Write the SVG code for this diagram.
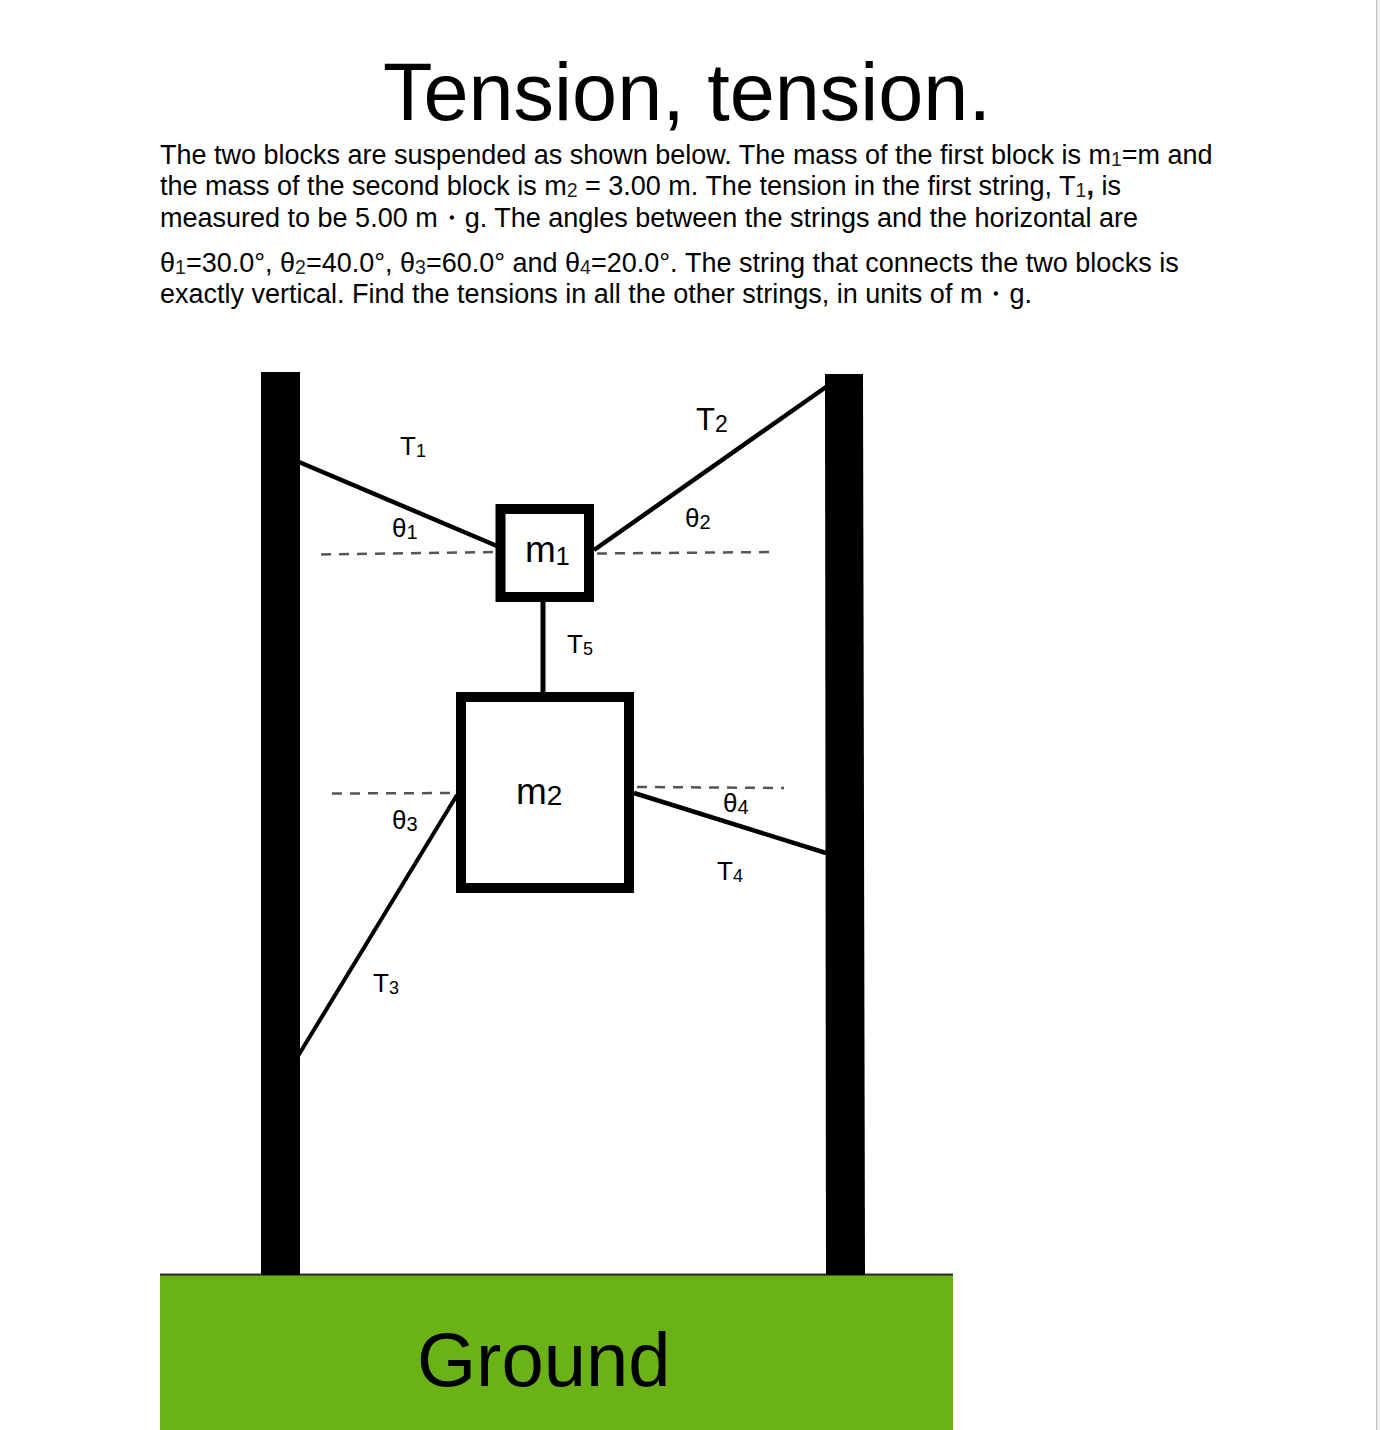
<svg xmlns="http://www.w3.org/2000/svg" width="1380" height="1430" viewBox="0 0 1380 1430">
<style>
text{font-family:"Liberation Sans",Arial,sans-serif;fill:#000}
.p{font-size:27px}
.s{font-size:19.500px;fill:#222}
.l{font-size:26px}
.ls{font-size:18px}
.lt{font-size:20px}
.pillar{fill:#000}
.block{fill:#fff;stroke:#000}
.str{stroke:#000;fill:none}
.dash{stroke:#555;stroke-width:2.500;stroke-dasharray:10 8;fill:none}
</style>
<rect width="1380" height="1430" fill="#fff"/>
<rect x="1376" y="0" width="1.500" height="1430" fill="#bfc3cc"/>
<rect x="1377.500" y="0" width="2.500" height="1430" fill="#f2f2f2"/>
<text id="title" x="383" y="120" style="font-size:81px">Tension, tension.</text>
<g id="problem">
<text class="p" x="160" y="164">The two blocks are suspended as shown below. The mass of the first block is m<tspan class="s" dy="2">1</tspan><tspan dy="-2">=m and</tspan></text>
<text class="p" x="160" y="195">the mass of the second block is m<tspan class="s" dy="2">2</tspan><tspan dy="-2"> = 3.00 m. The tension in the first string, T</tspan><tspan class="s" dy="2">1</tspan><tspan font-weight="bold" dy="-2">,</tspan> is</text>
<text class="p" x="160" y="227">measured to be 5.00 m・g. The angles between the strings and the horizontal are</text>
<text class="p" x="160" y="272">θ<tspan class="s" dy="2">1</tspan><tspan dy="-2">=30.0°, θ</tspan><tspan class="s" dy="2">2</tspan><tspan dy="-2">=40.0°, θ</tspan><tspan class="s" dy="2">3</tspan><tspan dy="-2">=60.0° and θ</tspan><tspan class="s" dy="2">4</tspan><tspan dy="-2">=20.0°. The string that connects the two blocks is</tspan></text>
<text class="p" x="160" y="303">exactly vertical. Find the tensions in all the other strings, in units of m・g.</text>
</g>
<g id="ground"><rect x="160" y="1275" width="793" height="155" fill="#6bb216"/><rect x="160" y="1273.500" width="793" height="2.200" fill="#333"/><text x="417" y="1386" style="font-size:76px">Ground</text></g>
<g id="left-pillar"><rect class="pillar" x="261" y="372" width="39" height="903"/></g>
<g id="right-pillar"><path class="pillar" d="M825 374H863L865 1275H826Z"/></g>
<g id="connectors">
<line class="str" stroke-width="4.500" x1="299" y1="462" x2="497" y2="546"/>
<line class="str" stroke-width="4.500" x1="594" y1="550" x2="826" y2="387"/>
<line class="str" stroke-width="5" x1="543" y1="600" x2="543" y2="694"/>
<line class="str" stroke-width="4" x1="298" y1="1056" x2="457" y2="795"/>
<line class="str" stroke-width="4.500" x1="634" y1="793" x2="826" y2="853"/>
<line class="dash" x1="321" y1="554.500" x2="495" y2="552"/>
<line class="dash" x1="597" y1="553.500" x2="776" y2="552"/>
<line class="dash" x1="332" y1="793.500" x2="456" y2="793"/>
<line class="dash" x1="637" y1="787" x2="784" y2="788"/>
</g>
<g id="m1"><rect class="block" stroke-width="10" x="500.500" y="509" width="88.500" height="88"/><text style="font-size:37px" x="525" y="562">m<tspan style="font-size:25px" dy="3">1</tspan></text></g>
<g id="m2"><rect class="block" stroke-width="10" x="461" y="697" width="168" height="191"/><text style="font-size:37px" x="516" y="804">m<tspan style="font-size:28px" dy="1">2</tspan></text></g>
<g id="labels">
<text class="l" x="400" y="455">T<tspan class="ls" dy="2">1</tspan></text>
<text x="696" y="430" style="font-size:31px">T<tspan style="font-size:23px" dy="2">2</tspan></text>
<text class="l" x="567" y="653">T<tspan class="ls" dy="2">5</tspan></text>
<text class="l" x="373" y="992">T<tspan class="ls" dy="2">3</tspan></text>
<text class="l" x="717" y="880">T<tspan class="ls" dy="2">4</tspan></text>
<text class="l" x="392" y="537">θ<tspan class="lt" dy="2">1</tspan></text>
<text class="l" x="685" y="527">θ<tspan class="lt" dy="2">2</tspan></text>
<text class="l" x="392" y="829">θ<tspan class="lt" dy="2">3</tspan></text>
<text class="l" x="723" y="812">θ<tspan class="lt" dy="2">4</tspan></text>
</g>
</svg>
